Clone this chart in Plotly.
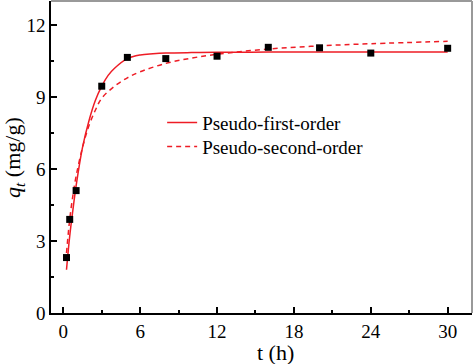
import plotly.graph_objects as go

# Experimental data
t_exp = [0.25, 0.5, 1, 3, 5, 8, 12, 16, 20, 24, 30]
q_exp = [2.31, 3.9, 5.1, 9.45, 10.65, 10.6, 10.7, 11.07, 11.05, 10.83, 11.03]

# Pseudo-first-order fitted curve
t_pfo = [0.25, 0.5, 0.75, 1, 1.5, 2, 2.5, 3, 3.5, 4, 5, 6, 7, 8, 10, 12, 16, 20, 24, 30]
q_pfo = [1.8, 3.2, 4.3, 5.3, 6.9, 8.0, 8.85, 9.45, 9.9, 10.2, 10.6, 10.75, 10.8, 10.83, 10.85, 10.86, 10.87, 10.87, 10.87, 10.87]

# Pseudo-second-order fitted curve
t_pso = [0.25, 0.5, 0.75, 1, 1.5, 2, 2.5, 3, 4, 5, 6, 8, 10, 12, 16, 20, 24, 30]
q_pso = [2.5, 3.9, 4.9, 5.7, 6.9, 7.8, 8.45, 8.95, 9.45, 9.8, 10.05, 10.4, 10.62, 10.78, 11.0, 11.13, 11.22, 11.32]

x_ticks = [0, 6, 12, 18, 24, 30]
y_ticks = [0, 3, 6, 9, 12]

RED = "#ee1c25"
FONT = "Liberation Serif"

fig = go.Figure()
fig.add_trace(go.Scatter(x=t_pfo, y=q_pfo, mode="lines", line=dict(color=RED, width=1.5, shape="spline"),
                         name="Pseudo-first-order", legend="legend"))
fig.add_trace(go.Scatter(x=t_pso, y=q_pso, mode="lines", line=dict(color=RED, width=1.5, dash="5px,4px", shape="spline"),
                         name="Pseudo-second-order", legend="legend2"))
fig.add_trace(go.Scatter(x=t_exp, y=q_exp, mode="markers", marker=dict(symbol="square", color="black", size=7),
                         showlegend=False))

axis_common = dict(showgrid=False, zeroline=False, showline=True, linecolor="black", linewidth=1.5,
                   ticks="inside", ticklen=6, tickwidth=1.5, tickcolor="black",
                   tickfont=dict(family=FONT, size=19, color="black"))

fig.update_xaxes(range=[-0.96, 31.9], tickvals=x_ticks, ticktext=[str(v) for v in x_ticks],
                 minor=dict(dtick=3, tick0=0, ticks="inside", ticklen=3, tickwidth=1.5, tickcolor="black"),
                 **axis_common)
fig.update_yaxes(range=[0, 13], tickvals=y_ticks, ticktext=[str(v) for v in y_ticks],
                 minor=dict(dtick=1.5, tick0=0, ticks="inside", ticklen=3, tickwidth=1.5, tickcolor="black"),
                 **axis_common)

# gray frame on top / right (cropped box edges)
fig.add_shape(type="line", xref="paper", yref="paper", x0=0, x1=1, y0=1, y1=1, line=dict(color="#999999", width=2))
fig.add_shape(type="line", xref="paper", yref="paper", x0=1, x1=1, y0=0, y1=1, line=dict(color="#999999", width=2))

fig.add_annotation(text="t (h)", xref="paper", yref="paper", x=0.534, y=-0.125, xanchor="center", yanchor="middle",
                   showarrow=False, font=dict(family=FONT, size=22, color="black"))
fig.add_annotation(text="<i>q</i><sub><i>t</i></sub> (mg/g)", xref="paper", yref="paper", x=-0.088, y=0.5,
                   xanchor="center", yanchor="middle", textangle=-90,
                   showarrow=False, font=dict(family=FONT, size=22, color="black"))

legend_style = dict(xanchor="left", yanchor="middle", bgcolor="rgba(0,0,0,0)",
                    font=dict(family=FONT, size=19, color="black"))

fig.update_layout(
    width=474, height=364,
    margin=dict(l=51, r=2, t=1, b=51),
    paper_bgcolor="white", plot_bgcolor="white",
    showlegend=True,
    hovermode=False,
    legend=dict(x=0.264, y=0.61, **legend_style),
    legend2=dict(x=0.264, y=0.533, **legend_style),
)

fig.write_html("out.html", config={"displayModeBar": False},
               post_script="document.body.style.margin='0';")
